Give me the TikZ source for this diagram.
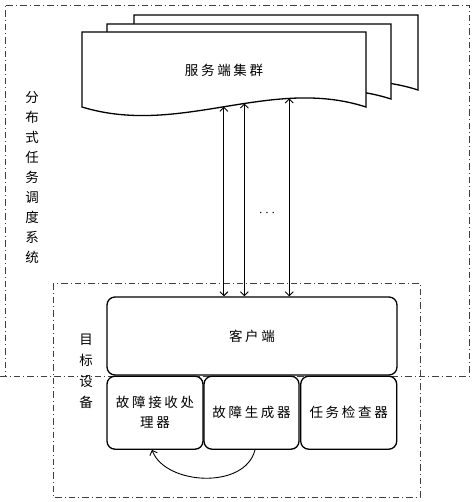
\documentclass[tikz,border=0pt]{standalone}
\usepackage{fontspec}
\newfontfamily\cjk[LetterSpace=20]{Noto Sans CJK SC}
\usetikzlibrary{arrows.meta}
\tikzset{
  sysframe/.style={draw=black!75, line width=0.9pt, dash pattern=on 6.5pt off 3pt on 1pt off 3pt},
  blockbox/.style={draw, line width=1.3pt, rounded corners=8pt, font=\cjk\fontsize{13.5}{20}\selectfont, align=center, inner sep=0pt},
  vlabel/.style={font=\cjk\fontsize{13.5}{20}\selectfont, align=center, inner sep=0pt},
  doc/.style={draw, line width=1.3pt, fill=white},
  link/.style={line width=0.9pt, >={Straight Barb[length=4pt,width=8pt]}}
}
\begin{document}
\begin{tikzpicture}[x=1pt,y=-1pt]
\useasboundingbox (0,0) rectangle (474,502);
% distributed system frame
\draw[sysframe] (0,376) -- (469,376) -- (469,5) -- (5,5) -- (5,376);
\node[vlabel] (syslabel) at (32,177.5) {分\\布\\式\\任\\务\\调\\度\\系\\统};
% target device frame
\draw[sysframe] (53,283) rectangle (420,497);
\node[vlabel, font=\cjk\fontsize{13.5}{21}\selectfont] (devlabel) at (86,371.5) {目\\标\\设\\备};

% server cluster
\foreach \dx/\dy in {52/-17,25/-8}
  \draw[doc, shift={(\dx,\dy)}] (82,107) -- (82,32) -- (366,32) -- (366,107) .. controls (270,76) and (180,137) .. (82,107) -- cycle;
\draw[doc] (82,107) -- (82,32) -- (366,32) -- (366,107) .. controls (270,76) and (180,137) .. (82,107)
  coordinate[pos=0.503] (w1) coordinate[pos=0.43] (w2) coordinate[pos=0.27] (w3) -- cycle;
\node[vlabel] (servers) at (224,70) {服务端集群};

% client and its parts
\node[blockbox, minimum width=290pt, minimum height=78pt] (client) at (252,336) {客户端};
\node[blockbox, minimum width=96pt, minimum height=73pt] (recv) at (155,412.7) {故障接收处\\理器};
\node[blockbox, minimum width=95pt, minimum height=73pt] (gen) at (251.5,412.7) {故障生成器};
\node[blockbox, minimum width=96pt, minimum height=73pt] (check) at (348.7,412.7) {任务检查器};

\foreach \w in {w1,w2,w3}
  \draw[link, <->] (\w) -- (\w |- client.north);
\node[scale=1.4] (dots) at (267,213) {$\cdots$};

\draw[link, ->] ([xshift=3.5pt]gen.south) .. controls (245,490) and (165,485) .. ([xshift=-3pt]recv.south);
\end{tikzpicture}
\end{document}
